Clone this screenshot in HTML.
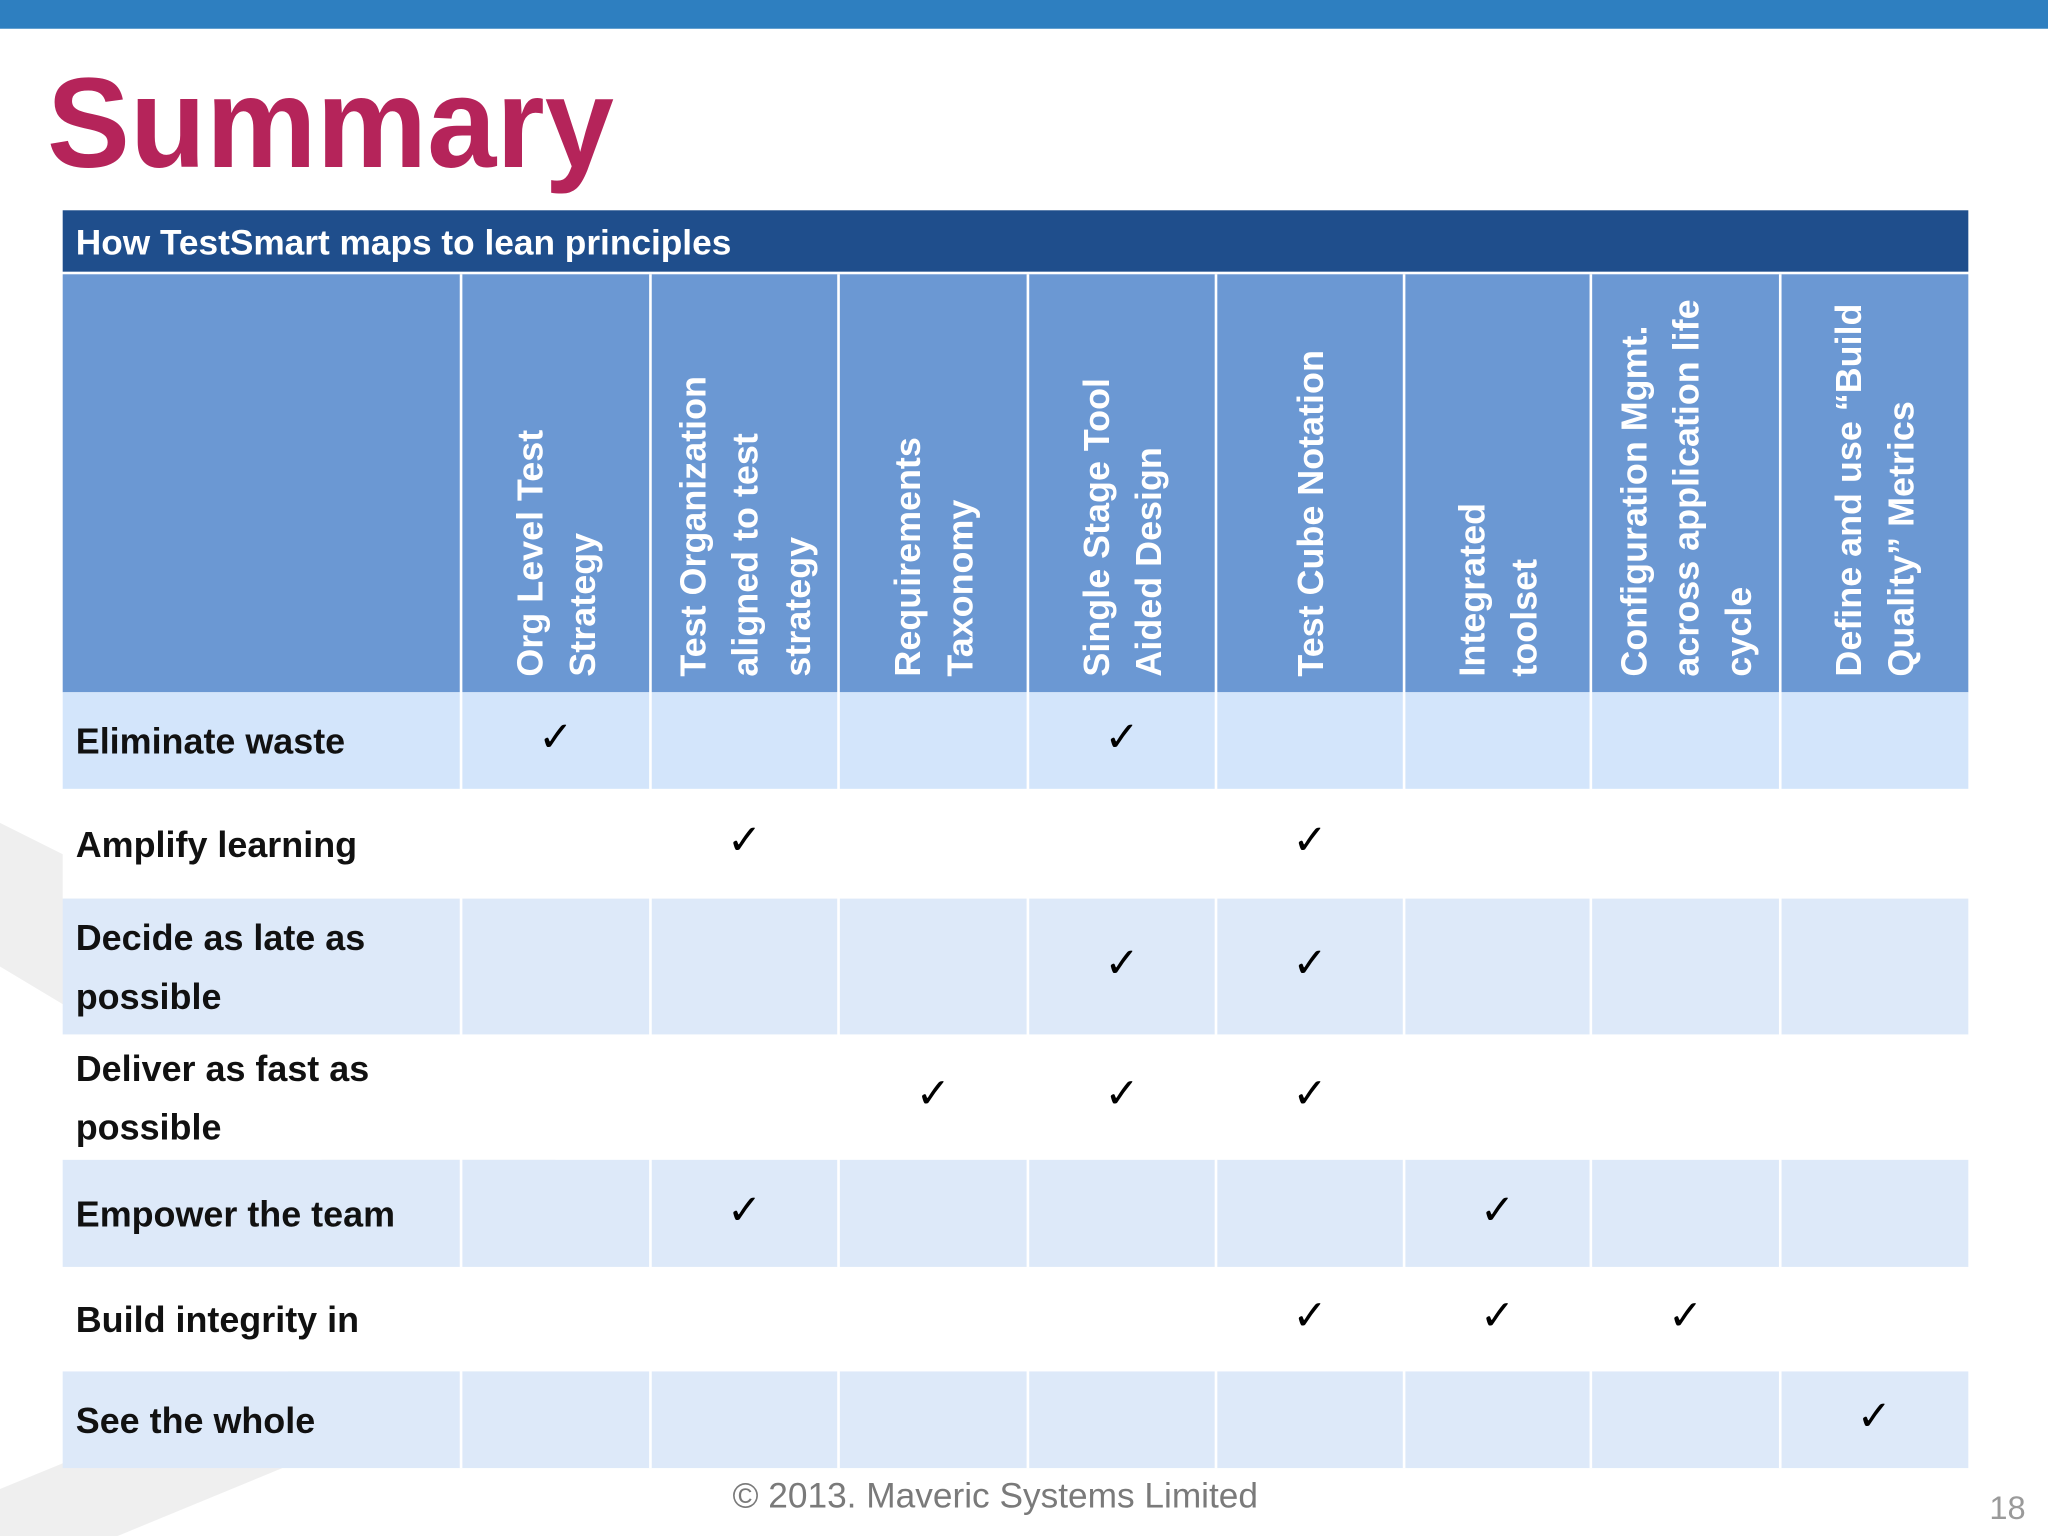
<!DOCTYPE html>
<html><head><meta charset="utf-8"><style>
html,body{margin:0;padding:0;background:#fff;}
svg{display:block;font-family:"Liberation Sans",sans-serif;}
</style></head><body>
<svg id="s" width="2048" height="1536" viewBox="0 0 1568 1176">
<rect x="0" y="0" width="1568" height="1176" fill="#ffffff"/>
<g opacity="0.55">
<polygon points="0,630 0,740 250,890 520,970 300,780" fill="#e2e2e2"/>
<polygon points="0,1140 0,1176 90,1176 505,1005 330,1005" fill="#e2e2e2"/>
</g>
<rect x="0" y="0" width="1568" height="22" fill="#2e7fc0"/>
<text x="36" y="128" font-size="98" font-weight="bold" fill="#b5245a" textLength="434" lengthAdjust="spacingAndGlyphs">Summary</text>
<rect x="48" y="161" width="1459" height="47" fill="#1f4e8c"/>
<text x="58" y="195" font-size="27" font-weight="bold" fill="#fff">How TestSmart maps to lean principles</text>
<g id="tbl"></g>
<text x="762" y="1154" font-size="27" fill="#7a7a7a" text-anchor="middle">© 2013. Maveric Systems Limited</text>
<text x="1537" y="1163" font-size="25" fill="#9a9a9a" text-anchor="middle">18</text>
</svg>
<script>
const columns=[["Org Level Test","Strategy"],["Test Organization","aligned to test","strategy"],["Requirements","Taxonomy"],["Single Stage Tool","Aided Design"],["Test Cube Notation"],["Integrated","toolset"],["Configuration Mgmt.","across application life","cycle"],["Define and use “Build","Quality” Metrics"]];
const rows=[["Eliminate waste"],["Amplify learning"],["Decide as late as","possible"],["Deliver as fast as","possible"],["Empower the team"],["Build integrity in"],["See the whole"]];
const checks=[[0,3],[1,4],[3,4],[2,3,4],[1,5],[4,5,6],[7]];
const colX=[48,353,498,642,787,931,1075,1218,1363,1507];
const rowY=[530,604,688,792,888,970,1050,1124];
const NS="http://www.w3.org/2000/svg";
const g=document.getElementById('tbl');
function mk(t,a,p){const e=document.createElementNS(NS,t);for(const k in a)e.setAttribute(k,a[k]);(p||g).appendChild(e);return e;}
let h=mk('rect',{x:48,y:210,width:1459,height:320,fill:'#6b98d3'});


rows.forEach((r,i)=>{
  const light=i%2===0;
  const rc=mk('rect',{x:48,y:rowY[i],width:1459,height:rowY[i+1]-rowY[i],fill:light?(i===0?'#d3e5fb':'#dde9f9'):'#ffffff'});
  
  
});
for(let c=1;c<colX.length-1;c++){
  const l=mk('line',{x1:colX[c],y1:210,x2:colX[c],y2:1124,stroke:'#ffffff','stroke-width':2});
  
  
}
columns.forEach((lines,c)=>{
  const cx=(colX[c+1]+colX[c+2])/2;
  const n=lines.length;
  lines.forEach((t,k)=>{
    const bx=cx+(k-(n-1)/2)*40+10;
    const tx=mk('text',{x:bx,y:518,transform:`rotate(-90 ${bx} 518)`,'font-size':27.5,'font-weight':'bold',fill:'#fff'});
    tx.textContent=t;
    
    
  });
});
rows.forEach((lines,i)=>{
  const y0=rowY[i],y1=rowY[i+1];
  const n=lines.length;
  lines.forEach((t,k)=>{
    const y=(y0+y1)/2+10+(k-(n-1)/2)*45;
    const tx=mk('text',{x:58,y:y,'font-size':27.5,'font-weight':'bold',fill:'#111'});
    tx.textContent=t;
    
    
  });
  checks[i].forEach(c=>{
    const cx=(colX[c+1]+colX[c+2])/2;
    const ck=mk('text',{x:cx,y:(y0+y1)/2+8,'font-size':32,'font-weight':'bold','font-family':'DejaVu Sans, sans-serif','text-anchor':'middle',fill:'#000'});
    ck.textContent='✓';
    
    
  });
});
</script>
</body></html>
